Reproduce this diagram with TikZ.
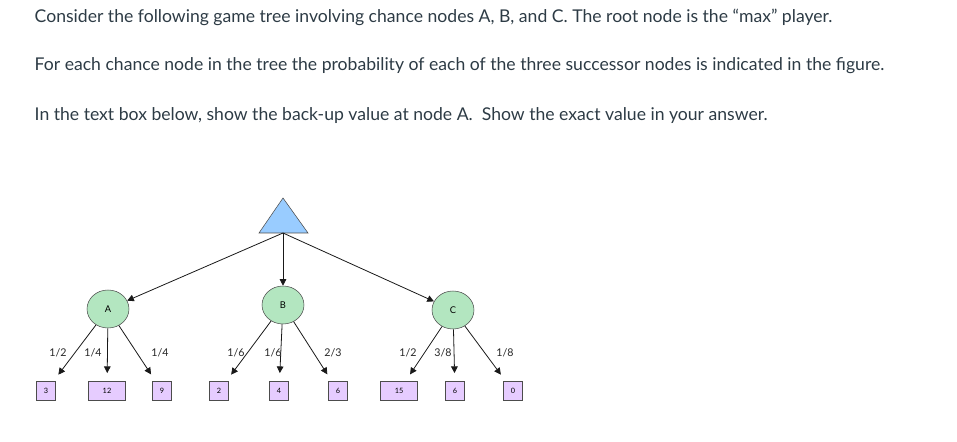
\documentclass[tikz,border=0pt]{standalone}
\usepackage{fontspec}
\setmainfont{Lato}
\usetikzlibrary{arrows.meta,shapes.geometric}
\definecolor{tri}{HTML}{99CCFF}
\definecolor{chance}{HTML}{B3E6C0}
\definecolor{leaf}{HTML}{E6CCFF}
\definecolor{txt}{HTML}{2D3B45}
\begin{document}
\begin{tikzpicture}[x=0.75pt,y=-0.75pt,
  chancenode/.style={ellipse,draw=black!70,fill=chance,minimum width=31.5pt,minimum height=28.5pt,inner sep=0pt,font=\fontsize{7}{8}\selectfont},
  leafnode/.style={draw=black!70,line width=0.9pt,fill=leaf,minimum height=14pt,inner sep=1pt,font=\fontsize{5.5}{6}\selectfont},
  edge/.style={-{Triangle[length=5pt,width=5pt]},black!90,line width=0.6pt},
  prob/.style={font=\fontsize{8}{9}\selectfont,text=black!85},
  para/.style={anchor=west,text=txt,font=\fontsize{13.2}{15}\selectfont}]
\useasboundingbox (0,0) rectangle (957,442);
\node[para] (t1) at (30,17) {Consider the following game tree involving chance nodes A, B, and C. The root node is the “max” player.};
\node[para] (t2) at (30,66) {For each chance node in the tree the probability of each of the three successor nodes is indicated in the figure.};
\node[para] (t3) at (30,116) {In the text box below, show the back-up value at node A.\ \ Show the exact value in your answer.};
\draw[fill=tri,draw=black!70] (283,198) -- (308,233) -- (259,233) -- cycle;
\coordinate (root) at (283,233);
\node[chancenode] (A) at (108,309) {A};
\node[chancenode] (B) at (283,305) {B};
\node[chancenode] (C) at (453,310) {C};
\draw[edge] (root) -- (A);
\draw[edge] (root) -- (B);
\draw[edge] (root) -- (C);
\foreach \n/\x/\v/\w in {a1/46/3/14, a2/107/12/28, a3/162/9/14, b1/219/2/14, b2/279/4/14, b3/338/6/14, c1/399/15/28, c2/455/6/14, c3/513/0/14}
  \node[leafnode,minimum width=\w pt] (\n) at (\x,391) {\v};
\foreach \p/\c in {A/a1,A/a2,A/a3,B/b1,B/b2,B/b3,C/c1,C/c2,C/c3}
  \draw[edge,shorten >=6pt] (\p) -- (\c);
\node[prob] (pa1) at (58,353) {1/2};
\node[prob] (pa2) at (93,353) {1/4};
\node[prob] (pa3) at (160,353) {1/4};
\node[prob] (pb1) at (236,353) {1/6};
\node[prob] (pb2) at (273,353) {1/6};
\node[prob] (pb3) at (333,353) {2/3};
\node[prob] (pc1) at (408,353) {1/2};
\node[prob] (pc2) at (443,353) {3/8};
\node[prob] (pc3) at (505,353) {1/8};
\end{tikzpicture}
\end{document}
